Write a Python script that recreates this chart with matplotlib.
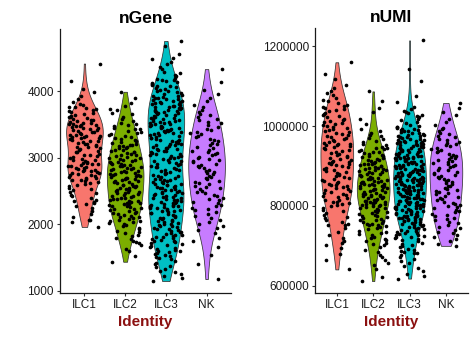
import numpy as np
import matplotlib
matplotlib.use("Agg")
import matplotlib.pyplot as plt

plt.rcParams['font.family'] = ['Liberation Sans', 'DejaVu Sans']

groups = ["ILC1", "ILC2", "ILC3", "NK"]
colors = ["#F8766D", "#7CAE00", "#00BFC4", "#C77CFF"]

# ---------------- nGene (genes per cell) ----------------
ngene_ilc1 = [4420, 4150, 4030,
              3985, 3930, 3880, 3845, 3810,
              3790, 3772, 3765, 3748, 3731, 3722, 3700, 3688, 3679, 3660, 3652, 3637, 3620, 3612, 3598,
              3585, 3571, 3563, 3550, 3538, 3531, 3522, 3514, 3508, 3502,
              3495, 3487, 3476, 3468, 3455, 3447, 3439, 3425, 3418, 3402, 3395, 3388, 3372, 3365, 3351,
              3342, 3336, 3328, 3320, 3311, 3305, 3298, 3284, 3276, 3260, 3252, 3240, 3231, 3215, 3207,
              3196, 3182, 3170, 3158, 3141, 3133, 3120, 3105, 3092, 3081, 3065, 3050, 3041, 3028, 3015,
              3002, 2990, 2975, 2962, 2948, 2936, 2925, 2917, 2905, 2901,
              2895, 2884, 2870, 2862, 2851, 2840, 2832, 2821, 2810, 2802, 2795, 2784, 2775, 2768, 2755,
              2741, 2736, 2725, 2712, 2701, 2690, 2681, 2672, 2660, 2648, 2630, 2618, 2605,
              2590, 2570, 2548, 2530, 2512, 2490, 2468, 2445, 2420, 2395, 2372, 2350, 2331, 2315, 2302,
              2280, 2240, 2200, 2160, 2110, 2070, 2060, 2040,
              1960]
ngene_ilc2 = [3995, 3905, 3832,
              3788, 3741, 3716, 3672, 3655, 3611, 3584, 3562, 3528, 3507,
              3493, 3480, 3455, 3441, 3430, 3404, 3391, 3372, 3366, 3340, 3327, 3318, 3296, 3281, 3275,
              3252, 3243, 3226, 3213, 3201,
              3197, 3184, 3176, 3158, 3149, 3141, 3122, 3118, 3101, 3095, 3083, 3070, 3062, 3046, 3038,
              3021, 3013, 3002, 2995, 2981, 2968, 2962, 2947, 2936, 2930, 2918, 2911, 2902,
              2898, 2886, 2879, 2870, 2858, 2851, 2847, 2833, 2825, 2819, 2806, 2799, 2790, 2781, 2774,
              2762, 2755, 2748, 2737, 2729, 2720, 2711, 2703, 2695, 2684, 2676, 2669, 2658, 2650, 2641,
              2633, 2617, 2604,
              2597, 2588, 2576, 2570, 2561, 2549, 2541, 2530, 2522, 2511, 2503, 2490, 2482, 2475, 2463,
              2450, 2444, 2432, 2421, 2413, 2402, 2395, 2381, 2373, 2366, 2352, 2345, 2333, 2325, 2316,
              2308, 2301,
              2294, 2282, 2270, 2257, 2246, 2235, 2222, 2210, 2198, 2186, 2175, 2163, 2150, 2139, 2127,
              2115, 2104, 2092, 2080, 2069, 2056, 2044, 2031, 2018, 2005,
              1988, 1966, 1947, 1925, 1903, 1880, 1862, 1840, 1818, 1797, 1775, 1752, 1731, 1710,
              1680, 1630, 1590, 1520, 1435]
ngene_ilc3 = [4760, 4680, 4560, 4510,
              4485, 4440, 4410, 4370, 4335, 4300, 4280, 4250, 4228, 4205,
              4192, 4180, 4166, 4155, 4140, 4126, 4113, 4100, 4088, 4075, 4062, 4050, 4037, 4025, 4012,
              4000, 3987, 3975, 3962, 3950, 3938, 3925, 3913, 3902,
              3896, 3889, 3880, 3871, 3863, 3855, 3846, 3838, 3829, 3821, 3812, 3804, 3795, 3787, 3778,
              3770, 3761, 3753, 3744, 3736, 3727, 3719, 3710, 3702, 3693, 3685, 3676, 3668, 3659, 3651,
              3642, 3634, 3620, 3607,
              3596, 3588, 3579, 3571, 3562, 3554, 3545, 3537, 3528, 3520, 3511, 3503, 3494, 3486, 3477,
              3469, 3460, 3452, 3443, 3435, 3426, 3418, 3409, 3401, 3392, 3384, 3375, 3367, 3358, 3350,
              3341, 3333, 3318, 3305,
              3295, 3284, 3276, 3263, 3255, 3247, 3233, 3226, 3214, 3206, 3193, 3187, 3174, 3166, 3153,
              3146, 3133, 3127, 3114, 3105, 3096, 3083, 3077, 3064, 3055, 3046, 3034, 3025, 3017, 3004,
              2994, 2982, 2971, 2960, 2948, 2937, 2925, 2914, 2902, 2891, 2880, 2868, 2857, 2845, 2834,
              2822, 2811, 2800, 2788, 2777, 2765, 2754, 2742, 2731, 2720, 2708,
              2697, 2688, 2679, 2669, 2660, 2651, 2641, 2632, 2623, 2613, 2604, 2595, 2585, 2576, 2567,
              2557, 2548, 2539, 2529, 2520, 2511, 2501, 2492, 2483, 2473, 2464, 2455, 2445, 2436, 2427,
              2417, 2408,
              2398, 2389, 2379, 2370, 2361, 2351, 2342, 2333, 2323, 2314, 2305, 2295, 2286, 2277, 2270,
              2268, 2265, 2260, 2251, 2240, 2230, 2221, 2212, 2202, 2193, 2184, 2174, 2165, 2156, 2146,
              2127, 2108,
              2098, 2087, 2076, 2065, 2054, 2043, 2032, 2021, 2010, 1999, 1988, 1977, 1966, 1955, 1944,
              1933, 1922, 1911, 1900, 1889, 1878, 1867, 1856, 1845, 1834, 1823, 1812, 1801,
              1795, 1781, 1768, 1754, 1741, 1727, 1713, 1700, 1686, 1672, 1659, 1645, 1632, 1618, 1604,
              1591, 1577, 1563, 1550, 1536, 1522, 1509,
              1490, 1470, 1445, 1420, 1400, 1375, 1350, 1320, 1300, 1275, 1250, 1220, 1190, 1145]
ngene_nk = [4336, 4140, 4020,
            3960, 3905, 3850, 3800, 3760, 3715,
            3690, 3665, 3642, 3615, 3590, 3566, 3540, 3518, 3492, 3466, 3440, 3415,
            3392, 3372, 3353, 3331, 3310, 3290, 3270, 3249, 3228, 3208, 3188, 3166, 3146, 3125, 3104,
            3090, 3072, 3055, 3037, 3019, 3002, 2984, 2966, 2948, 2931, 2913, 2895, 2878, 2860, 2842,
            2824, 2806,
            2790, 2771, 2752, 2733, 2714, 2695, 2676, 2657, 2638, 2619, 2600, 2581, 2562, 2543, 2524,
            2505,
            2488, 2466, 2444, 2423, 2401, 2380, 2358, 2337, 2315, 2294, 2272, 2251, 2229, 2208,
            2185, 2155, 2125, 2096, 2066, 2037, 2007, 1978, 1948, 1920,
            1870, 1800, 1740, 1660,
            1540, 1400, 1175]

# ---------------- nUMI (thousands of UMIs per cell) ----------------
numi_ilc1_k = [1160, 1131, 1117, 1104,
               1096, 1089, 1083, 1077, 1071, 1066, 1062, 1058, 1054, 1051,
               1048, 1046, 1043, 1040, 1037, 1034, 1031, 1028, 1025, 1022, 1019, 1016, 1013, 1010, 1008,
               1005, 1003, 1001,
               998, 995, 993, 990, 988, 985, 982, 980, 977, 975, 972, 970, 967, 965, 962, 960, 958, 956,
               955, 953, 952, 951,
               948, 946, 943, 941, 938, 936, 933, 931, 928, 926, 923, 921, 918, 916, 913, 911, 909, 907,
               905, 904, 902, 901,
               898, 896, 893, 891, 888, 885, 883, 880, 877, 875, 872, 870, 867, 864, 862, 859, 857, 855,
               853, 852, 851,
               848, 846, 843, 840, 838, 835, 832, 830, 827, 824, 822, 819, 816, 814, 811, 809, 807, 805,
               803, 801,
               796, 791, 787, 782, 778, 773, 769, 764, 760, 756, 753, 751,
               744, 735, 728, 720, 713, 707, 702,
               694, 679, 664, 641]
numi_ilc2_k = [1087, 1063, 1046,
               1036, 1019, 1006, 993,
               987, 983, 979, 975, 971, 967, 963, 959, 955, 952,
               948, 946, 944, 942, 940, 938, 936, 934, 932, 930, 928, 926, 924, 922, 920, 918, 916, 914,
               912, 910, 908, 906, 905, 904, 902, 901,
               899, 898, 896, 895, 893, 892, 890, 889, 887, 885, 884, 882, 881, 879, 878, 876, 874, 873,
               871, 870, 868, 867, 865, 863, 862, 860, 859, 857, 856, 854, 853, 852, 851, 850, 855, 861,
               849, 848, 846, 845, 843, 842, 840, 839, 837, 836, 834, 833, 831, 830, 828, 827, 825, 824,
               822, 821, 819, 818, 816, 815, 813, 812, 810, 809, 807, 806, 805, 804, 803, 802, 801, 800,
               811, 826,
               798, 796, 794, 792, 790, 788, 786, 784, 782, 780, 778, 776, 774, 772, 770, 768, 766, 764,
               762, 760, 758, 756, 754, 752, 751, 750,
               747, 744, 741, 738, 735, 732, 729, 726, 723, 720, 717, 714, 711, 708, 705, 702,
               697, 690, 684, 678, 671, 664, 658, 652,
               643, 622, 612]
numi_ilc3_k = [1215, 1142, 1112,
               1075, 1061, 1049, 1042,
               1038, 1035, 1032, 1029, 1025, 1022, 1018, 1015, 1011, 1008, 1004, 1001,
               999, 997, 996, 994, 993, 991, 990, 988, 987, 985, 984, 982, 981, 979, 978, 976, 975, 973,
               972, 970, 969, 967, 966, 964, 963, 962, 961, 960,
               959, 958, 957, 955, 954, 953, 952, 951, 950, 948, 947, 946, 945, 944, 942, 941, 940, 939,
               938, 937, 935, 934, 933, 932, 931, 930, 928, 927, 926, 925, 924, 923, 922, 921, 921, 920,
               919, 918, 917, 916, 915, 914, 913, 912, 911, 910, 909, 908, 907, 906, 905, 904, 903, 902,
               901, 900, 899, 898, 897, 896, 895, 894, 893, 892, 891, 890, 889, 888, 887, 886, 885, 884,
               883, 882, 881, 880,
               879, 878, 877, 876, 875, 874, 873, 872, 871, 870, 869, 868, 867, 866, 865, 864, 863, 862,
               861, 860, 859, 858, 857, 856, 855, 854, 853, 852, 851, 850, 849, 848, 847, 846, 845, 844,
               843, 842, 841, 840, 867, 853,
               839, 838, 837, 835, 834, 833, 832, 831, 830, 829, 827, 826, 825, 824, 823, 822, 821, 819,
               818, 817, 816, 815, 814, 813, 812, 811, 810, 809, 808, 806, 805, 804, 803, 802, 801, 800,
               836, 828, 820, 807,
               799, 798, 797, 796, 795, 794, 793, 792, 791, 789, 788, 787, 786, 785, 784, 782, 781, 780,
               779, 778, 776, 775, 774, 773, 772, 770, 769, 768, 767, 766, 764, 763, 762, 761, 760, 771,
               758, 756, 755, 753, 751, 750, 748, 746, 745, 743, 741, 740, 738, 736, 735, 733, 731, 730,
               728, 726, 725, 723, 722, 720,
               717, 714, 711, 708, 705, 702, 699, 696, 693, 690, 687, 685, 683, 681,
               677, 672, 667, 662, 656, 650, 644,
               638, 630, 624, 618]
numi_nk_k = [1058, 1045,
             1036, 1027, 1018, 1010, 1002,
             996, 992, 988, 984, 980, 976, 972, 968, 964, 961,
             958, 955, 952, 949, 946, 943, 940, 937, 934, 931, 928, 925, 922, 920,
             918, 915, 913, 910, 907, 905, 902, 899, 897, 894, 891, 889, 886, 883, 881,
             878, 875, 873, 870, 867, 865, 862, 859, 857, 854, 851, 849, 846, 843, 841,
             838, 835, 832, 829, 826, 823, 820, 817, 814, 811, 808, 805, 802, 800,
             797, 794, 790, 787, 784, 780, 777, 774, 770, 767, 764, 761,
             757, 753, 748, 744, 740, 735, 731, 727, 723,
             718, 711, 705, 700]

ngene = [ngene_ilc1, ngene_ilc2, ngene_ilc3, ngene_nk]
numi = [np.asarray(v, float) * 1000 for v in (numi_ilc1_k, numi_ilc2_k, numi_ilc3_k, numi_nk_k)]

ngene_ticks = [1000, 2000, 3000, 4000]
numi_ticks = [600000, 800000, 1000000, 1200000]


def nrd0(x):
    x = np.asarray(x, float)
    sd = x.std(ddof=1)
    q75, q25 = np.percentile(x, [75, 25])
    iqr = (q75 - q25) / 1.34
    lo = min(sd, iqr) if iqr > 0 else sd
    return 0.9 * lo * len(x) ** (-0.2)


def jitter_frac(n, seed):
    i = np.arange(n) + 1 + seed * 1000
    h = np.sin(i * 12.9898 + seed * 78.233) * 43758.5453
    return h - np.floor(h)


def panel(ax, data, title, ticks):
    allv = np.concatenate([np.asarray(d, float) for d in data])
    lo, hi = allv.min(), allv.max()
    ex = 0.05 * (hi - lo)
    for i, (vals, col) in enumerate(zip(data, colors)):
        pos = i + 1
        v = np.asarray(vals, float)
        bw = nrd0(v)
        grid = np.linspace(v.min(), v.max(), 512)
        dens = np.exp(-0.5 * ((grid[:, None] - v[None, :]) / bw) ** 2).sum(axis=1)
        half = dens / dens.max() * 0.45
        ax.fill_betweenx(grid, pos - half, pos + half, facecolor=col,
                         edgecolor='#333333', linewidth=0.55, zorder=2)
        fr = jitter_frac(len(v), i + 1)
        x = pos + (fr - 0.5) * 0.8
        ax.scatter(x, v, s=7, c='black', linewidths=0, zorder=3)
    ax.set_xlim(0.4, 4.6)
    ax.set_ylim(lo - ex, hi + ex)
    ax.set_xticks(range(1, 5))
    ax.set_xticklabels(groups)
    ax.set_yticks(ticks)
    ax.set_yticklabels([str(t) for t in ticks])
    for s in ('top', 'right'):
        ax.spines[s].set_visible(False)
    for s in ('left', 'bottom'):
        ax.spines[s].set_linewidth(0.9)
        ax.spines[s].set_color('#1a1a1a')
    ax.tick_params(length=2.4, width=0.8, color='#333333', labelsize=8.5,
                   labelcolor='#1a1a1a', pad=2)
    ax.set_title(title, fontsize=12.5, fontweight='bold', pad=4.5)
    ax.set_xlabel('Identity', fontsize=11, fontweight='bold', color='#8B1010', labelpad=3)


fig = plt.figure(figsize=(4.74, 3.38), dpi=100)
axL = fig.add_axes([60 / 474, 45 / 338, 171 / 474, 264 / 338])
axR = fig.add_axes([315 / 474, 45 / 338, 152.7 / 474, 264.7 / 338])
panel(axL, ngene, 'nGene', ngene_ticks)
panel(axR, numi, 'nUMI', numi_ticks)

fig.savefig('out.png', dpi=100)
